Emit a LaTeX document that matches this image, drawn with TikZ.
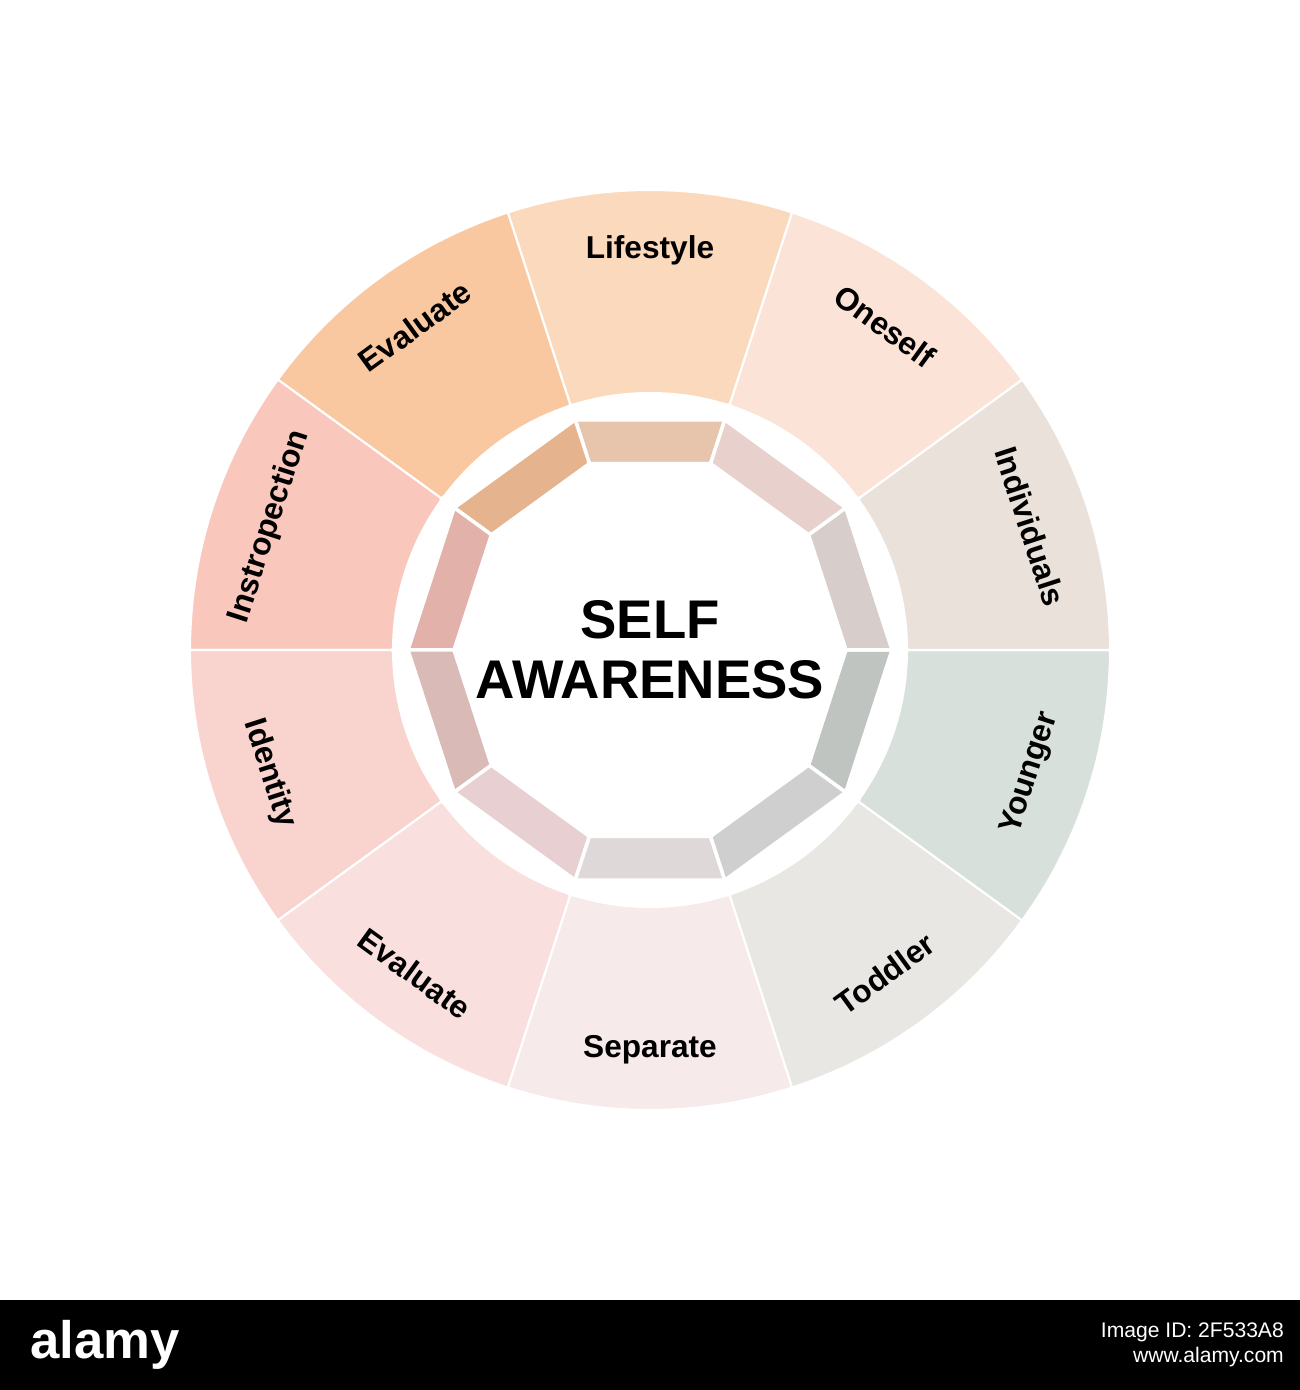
\documentclass[tikz,border=0pt]{standalone}
\usepackage{fontspec}
\setmainfont{Liberation Sans}
\begin{document}
\begin{tikzpicture}[x=0.02cm,y=0.02cm,
  lbl/.style={font=\fontsize{18}{20}\selectfont\bfseries,text=black},
  seg/.style={draw=white,line width=1.2pt}]
\useasboundingbox (0,0) rectangle (1300,1390);
\fill[white] (0,0) rectangle (1300,1390);
\fill[black] (0,0) rectangle (1300,90);
\node[text=white,font=\fontsize{30}{30}\selectfont\bfseries] (logo) at (105,45) {alamy};
\node[text=white,font=\fontsize{12}{14}\selectfont,align=right,anchor=east] (info) at (1290,45) {Image ID: 2F533A8\\www.alamy.com};
\begin{scope}[shift={(650,740)}]
\foreach \c/\col in {90/FBD9BD,126/F9C8A0,162/F9C7BC,198/F9D3CE,234/F9E0DE,270/F6EAEA,306/E8E7E3,342/D8E0DB,18/EAE2DA,54/FCE3D8}{
  \definecolor{tmp}{HTML}{\col}
  \filldraw[seg,fill=tmp] (\c-18:258) -- (\c-18:460) arc (\c-18:\c+18:460) -- (\c+18:258) -- cycle;
}
\fill[white] (0,0) circle (258);
\foreach \c/\col in {90/E7C4AC,126/E5B38E,162/E2B2AA,198/DABAB6,234/E8D0D2,270/DED9D8,306/CFCFCF,342/C0C4C0,18/D7CDCA,54/E8D1CD}{
  \definecolor{tmp}{HTML}{\col}
  \filldraw[seg,line width=2pt,fill=tmp] (\c-18:196) -- (\c-18:242) -- (\c+18:242) -- (\c+18:196) -- cycle;
}
\foreach \c/\t in {90/Lifestyle,126/Evaluate,162/Instropection,54/Oneself,18/Individuals}{
  \node[lbl,rotate=\c-90,inner sep=0pt] (t\c) at (\c:400) {\t};
}
\foreach \c/\t in {198/Identity,234/Evaluate,270/Separate,306/Toddler,342/Younger}{
  \node[lbl,rotate=\c+90,inner sep=0pt] (t\c) at (\c:400) {\t};
}
\node[font=\fontsize{31}{34}\selectfont\bfseries,align=center] (title) at (0,0) {SELF\\AWARENESS};
\end{scope}
\end{tikzpicture}
\end{document}
